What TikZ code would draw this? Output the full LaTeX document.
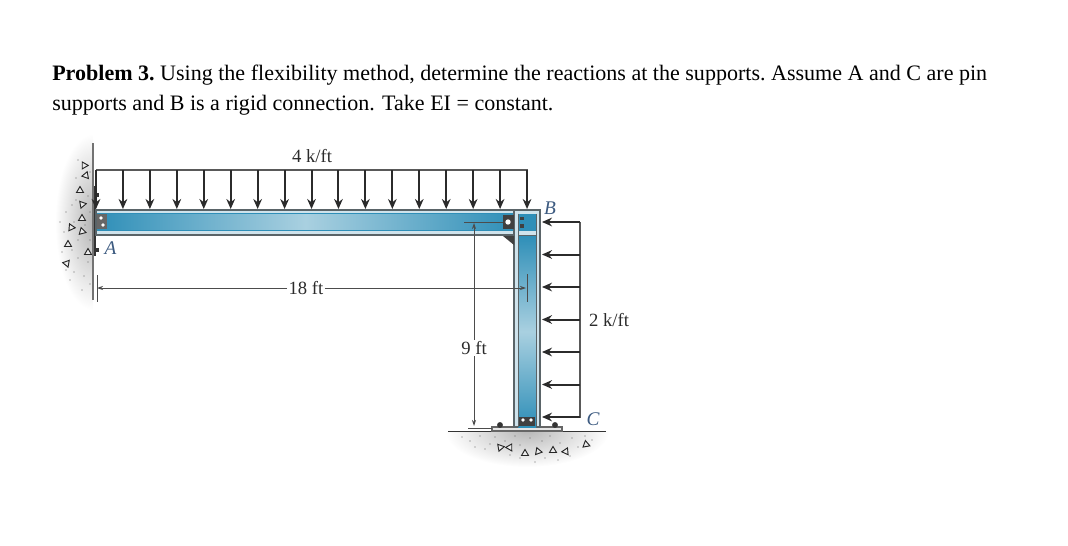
\documentclass[tikz,border=0pt]{standalone}
\usepackage{fontspec}
\setmainfont{Liberation Serif}
\usetikzlibrary{arrows.meta}
\definecolor{beamdark}{HTML}{2F8FB8}
\definecolor{beamlight}{HTML}{A9D0E0}
\definecolor{flange}{HTML}{CFE3EC}
\definecolor{edgegray}{HTML}{5A6468}
\definecolor{inkgray}{HTML}{2B2B2B}
\definecolor{lettercol}{HTML}{3C5A80}
\tikzset{
	loadarrow/.style={line width=1.5pt, color=inkgray, -{Stealth[length=7.5pt,width=6.5pt]}},
	loadedge/.style={line width=1pt, color=black!65},
	dimline/.style={line width=0.6pt, color=black!70},
	dimarrow/.style={dimline, -{Stealth[length=4.5pt,width=3pt]}},
	member/.style={draw=edgegray, line width=0.8pt, fill=flange},
	boltbox/.style={fill=black!75},
	speck/.style={fill=black!60},
	stone/.style={draw=black!85, line width=0.7pt, fill=black!8},
	dimlabel/.style={font=\fontsize{14}{16}\selectfont, color=inkgray, inner sep=1pt},
	pointlabel/.style={font=\fontsize{14.5}{16}\selectfont\itshape, color=lettercol, inner sep=0pt}
}

\begin{document}
\begin{tikzpicture}[x=0.75pt, y=-0.75pt]
		%%%%% START %%%%%
		\useasboundingbox (0, 0) rectangle (1068, 546);
		
		\node[anchor=north west, align=left, inner sep=0pt, font=\fontsize{16.53}{22.5}\selectfont] (problem) at (52, 65) {\frenchspacing\textbf{Problem 3.} Using the flexibility method, determine the reactions at the supports. Assume A and C are pin\\supports and B is a rigid connection. Take EI = constant.};
		
		% wall
		\begin{scope}
			\clip (40, 130) rectangle (93, 310);
			\shade[inner color=black!30, outer color=white] (93, 222) ellipse[x radius=38, y radius=88];
		\end{scope}
		\foreach \px/\py in {78/160, 90/172, 76/178, 88/196, 72/205, 66/212, 74/222, 90/212, 64/232, 78/240, 90/240, 72/250, 62/252, 78/258, 88/262, 74/272, 84/276, 70/280, 90/284, 82/290, 60/222, 76/200, 85/225, 66/270}
			\fill[speck] (\px, \py) circle[radius=0.5pt];
		\foreach \px/\py/\rot in {84/165/30, 86/175/-20, 80/190/0, 82/204/40, 82/218/0, 71/227/25, 82/231/15, 68/244/0, 88/252/0, 67/263/-40}
			\draw[stone, shift={(\px, \py)}, rotate=\rot] (-3.5, 2.5) -- (0, -3.5) -- (3.5, 2.5) -- cycle;
		\draw[line width=1.4pt, color=black!55] (93, 143) -- (93, 300);
		\draw[line width=1.2pt, color=black!80] (95, 186) -- (95, 256);
		\fill[black!80] (96, 193) rectangle (99, 197);
		\fill[black!80] (96, 248) rectangle (99, 252);
		
		% ground
		\begin{scope}
			\clip (440, 431) rectangle (615, 480);
			\shade[inner color=black!28, outer color=white] (527, 431) ellipse[x radius=82, y radius=36];
		\end{scope}
		\foreach \px/\py in {462/437, 470/441, 480/436, 490/444, 495/437, 505/441, 515/436, 520/445, 530/438, 542/441, 550/436, 560/443, 572/438, 585/436, 592/440, 578/447, 570/456, 545/458, 520/458, 510/455, 485/449, 475/447, 558/460, 535/462}
			\fill[speck] (\px, \py) circle[radius=0.5pt];
		\foreach \px/\py/\rot in {500/447/40, 510/447/-30, 525/453/0, 538/451/20, 553/450/0, 566/451/-25, 586/444/10}
			\draw[stone, shift={(\px, \py)}, rotate=\rot] (-3.5, 2.5) -- (0, -3.5) -- (3.5, 2.5) -- cycle;
		\draw[line width=0.9pt, color=black!80] (448, 431.5) -- (606, 431.5);
		\draw[line width=0.8pt, color=black!60, fill=black!10] (492, 427) rectangle (562, 431);
		\fill[black!80] (500, 425) circle[radius=2.2pt];
		\fill[black!80] (555, 425) circle[radius=2.2pt];
		
		% horizontal member
		\draw[member] (96, 210) rectangle (514, 235);
		\shade[left color=beamdark, right color=beamdark, middle color=beamlight] (97, 213.5) rectangle (514, 230.5);
		\draw[line width=0.5pt, color=beamdark] (97, 213.5) -- (514, 213.5);
		\draw[line width=0.5pt, color=beamdark] (97, 230.5) -- (514, 230.5);
		
		% vertical member
		\draw[member] (514, 210) rectangle (540, 427);
		\shade[top color=beamdark, bottom color=beamdark, middle color=beamlight] (518, 236) rectangle (536, 427);
		\fill[beamdark] (518, 213.5) rectangle (536, 231);
		\draw[line width=0.6pt, color=edgegray] (536, 213.5) -- (536, 427);
		\draw[line width=0.6pt, color=edgegray] (518, 213.5) -- (518, 427);
		\draw[line width=0.5pt, color=edgegray] (518, 235) -- (536, 235);
		
		% connections
		\fill[black!60] (97, 214) rectangle (107, 229);
		\fill[white] (101, 218) circle[radius=1.4pt];
		\fill[white] (103, 225) circle[radius=1.4pt];
		\fill[boltbox] (503, 215) rectangle (514, 229);
		\fill[white] (508, 222) circle[radius=2pt];
		\fill[boltbox] (520, 217) rectangle (524, 220);
		\fill[boltbox] (520, 224) rectangle (524, 228);
		\fill[boltbox] (503, 236) -- (514, 236) -- (514, 245) -- cycle;
		\fill[boltbox] (519, 417) rectangle (535, 426);
		\fill[white] (523, 420) circle[radius=1.4pt];
		\fill[white] (531, 420) circle[radius=1.4pt];
		
		% loads
		\draw[loadedge] (96, 170) -- (528, 170);
		\foreach \i in {0,...,16}
			\draw[loadarrow] ({96+26.94*\i}, 170) -- ({96+26.94*\i}, 209);
		\draw[loadedge] (580, 222) -- (580, 418);
		\foreach \i in {0,...,6}
			\draw[loadarrow] (580, {222+32.5*\i}) -- (542, {222+32.5*\i});
		
		\node[dimlabel] (loadtop) at (312, 156) {4 k/ft};
		\node[dimlabel] (loadside) at (609, 320) {2 k/ft};
		
		% dimensions
		\node[dimlabel] (span) at (306, 288) {18 ft};
		\node[dimlabel] (height) at (474, 348) {9 ft};
		\coordinate (spanleft) at (97, 288);
		\coordinate (spanright) at (526, 288);
		\coordinate (heighttop) at (474, 223);
		\coordinate (heightbottom) at (474, 426);
		\draw[dimarrow] (span) -- (spanleft);
		\draw[dimarrow] (span) -- (spanright);
		\draw[dimarrow] (height) -- (heighttop);
		\draw[dimarrow] (height) -- (heightbottom);
		\draw[dimline] (97, 275) -- (97, 302);
		\draw[dimline] (527, 274) -- (527, 302);
		\draw[dimline] (464, 222) -- (503, 222);
		\draw[dimline] (468, 428) -- (492, 428);
		
		\node[pointlabel] (ptA) at (110.5, 248.5) {A};
		\node[pointlabel] (ptB) at (550, 208) {B};
		\node[pointlabel] (ptC) at (593, 419.5) {C};
		%%%%% END %%%%%
	\end{tikzpicture}
\end{document}
